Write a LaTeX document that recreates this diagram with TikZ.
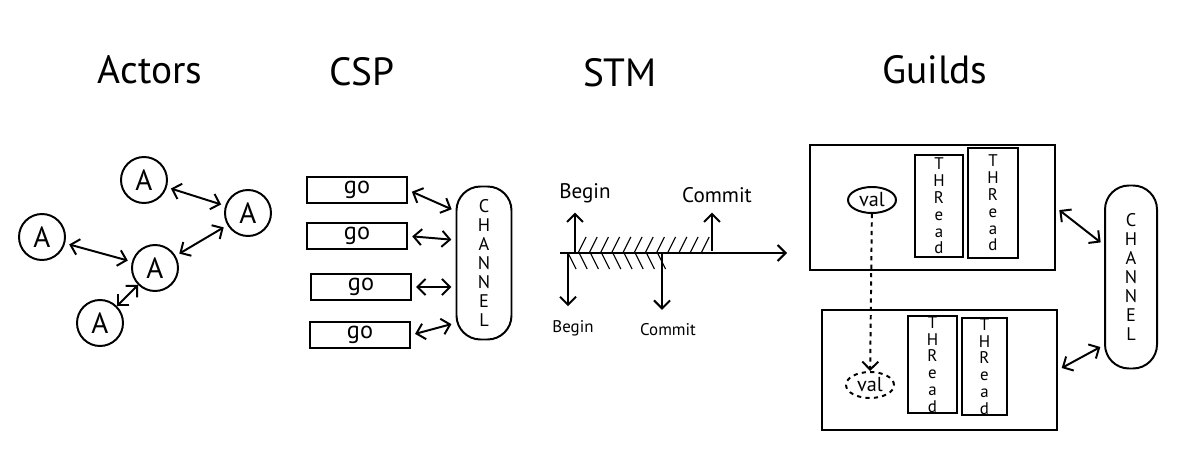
\documentclass[tikz,border=0pt]{standalone}
\usepackage{fontspec}
\setmainfont{PT Sans}
\usepackage{tikz}
\usetikzlibrary{positioning,arrows.meta,shapes.geometric}

\begin{document}
\begin{tikzpicture}[>={Straight Barb[length=2mm]},line width=1.4pt,
  title/.style={font=\fontsize{28}{32}\selectfont},
  actor/.style={draw,circle,minimum size=1.15cm,inner sep=0pt,font=\huge},
  gobox/.style={draw,minimum width=2.5cm,minimum height=0.65cm,inner sep=0pt,font=\LARGE},
  chanbox/.style={draw,rounded corners=0.6cm,align=center,inner sep=0pt,font=\fontsize{13}{13.5}\selectfont},
  threadbox/.style={draw,align=center,inner sep=0pt,font=\fontsize{12}{12}\selectfont},
  valnode/.style={draw,ellipse,inner sep=0pt,minimum width=1.2cm,minimum height=0.65cm,font=\Large},
  link/.style={<->,shorten <=3pt,shorten >=3pt}]
\useasboundingbox (0,0) rectangle (30,11.425);

% Actors
\node[title] (actorsT) at (3.75,9.675) {Actors};
\node[actor] (a1) at (3.6,6.925) {A};
\node[actor] (a2) at (6.2,6.1) {A};
\node[actor] (a3) at (1.05,5.5) {A};
\node[actor] (a4) at (3.875,4.725) {A};
\node[actor] (a5) at (2.5,3.35) {A};
\draw[link] (a1) -- (a2);
\draw[link] (a3) -- (a4);
\draw[link] (a4) -- (a2);
\draw[link,shorten <=0pt,shorten >=0pt] (a5) -- (a4);

% CSP
\node[title] (cspT) at (9.05,9.625) {CSP};
\node[gobox] (go1) at (8.925,6.675) {go};
\node[gobox] (go2) at (8.925,5.525) {go};
\node[gobox] (go3) at (9.025,4.25) {go};
\node[gobox] (go4) at (9.0,3.05) {go};
\node[chanbox,minimum width=1.375cm,minimum height=3.825cm] (chan1) at (12.1,4.85) {C\\H\\A\\N\\N\\E\\L};
\draw[link] (go1.east) -- ([yshift=1.3cm]chan1.west);
\draw[link] (go2.east) -- ([yshift=0.575cm]chan1.west);
\draw[link] (go3.east) -- ([yshift=-0.6cm]chan1.west);
\draw[link] (go4.east) -- ([yshift=-1.5cm]chan1.west);

% STM
\node[title] (stmT) at (15.5,9.6) {STM};
\coordinate (t0) at (14.0,5.1);
\coordinate (t1) at (19.675,5.1);
\draw[->] (t0) -- (t1);
\foreach \x in {14.45,14.73,...,17.6}
  \draw[thick] (\x,5.1) -- ++(0.2,0.4);
\foreach \x in {14.2,14.48,...,16.5}
  \draw[thick] (\x,5.1) -- ++(0.2,-0.4);
\node[font=\fontsize{15}{18}\selectfont] (beginUp) at (14.625,6.6) {Begin};
\node[font=\fontsize{15}{18}\selectfont] (commitUp) at (17.925,6.55) {Commit};
\node[font=\large] (beginDown) at (14.325,3.225) {Begin};
\node[font=\large] (commitDown) at (16.7,3.175) {Commit};
\coordinate (bUp) at (14.375,5.1);
\coordinate (cUp) at (17.8,5.15);
\coordinate (bDown) at (14.2,5.1);
\coordinate (cDown) at (16.55,5.1);
\draw[->,shorten >=3pt] (bUp) -- (bUp |- beginUp.south);
\draw[->,shorten >=3pt] (cUp) -- (cUp |- commitUp.south);
\draw[->,shorten >=6pt] (bDown) -- (bDown |- beginDown.north);
\draw[->,shorten >=6pt] (cDown) -- (cDown |- commitDown.north);

% Guilds
\node[title] (guildsT) at (23.375,9.675) {Guilds};
\node[draw,minimum width=6.125cm,minimum height=3.125cm] (g1) at (23.3125,6.2375) {};
\node[draw,minimum width=5.875cm,minimum height=3.0cm] (g2) at (23.4875,2.175) {};
\node[valnode] (v1) at (21.8,6.425) {val};
\node[valnode,dashed] (v2) at (21.75,1.8) {val};
\node[threadbox,minimum width=1.2cm,minimum height=2.55cm] (th1) at (23.475,6.275) {T\\H\\R\\e\\a\\d};
\node[threadbox,minimum width=1.25cm,minimum height=2.75cm] (th2) at (24.825,6.35) {T\\H\\R\\e\\a\\d};
\node[threadbox,minimum width=1.225cm,minimum height=2.375cm] (th3) at (23.3125,2.3125) {T\\H\\R\\e\\a\\d};
\node[threadbox,minimum width=1.125cm,minimum height=2.425cm] (th4) at (24.6125,2.2625) {T\\H\\R\\e\\a\\d};
\node[chanbox,minimum width=1.3cm,minimum height=4.575cm] (chan2) at (28.275,4.5) {C\\H\\A\\N\\N\\E\\L};
\draw[->,dashed] (v1) -- (v2);
\draw[link] (g1.east) -- ([yshift=0.8cm]chan2.west);
\draw[link] (g2.east) -- ([yshift=-1.7cm]chan2.west);
\end{tikzpicture}
\end{document}
